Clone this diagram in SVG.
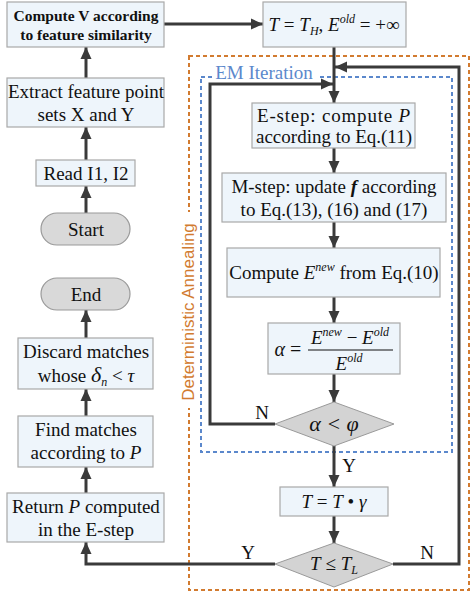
<svg xmlns="http://www.w3.org/2000/svg" width="474" height="594" viewBox="0 0 474 594">
<style>
.box{fill:#eef5fb;stroke:#a8a8a8;stroke-width:1.2}
.pill{fill:#d9d9d9;stroke:#9a9a9a;stroke-width:1.2}
.dia{fill:#d3d3d3;stroke:#9a9a9a;stroke-width:1}
.t{font-family:"Liberation Serif","Times New Roman",serif;font-size:19px;fill:#111;text-anchor:middle}
.b{font-weight:bold;font-size:15.5px}
.i{font-style:italic}
.sub{font-size:12px;font-style:italic}
.con{fill:none;stroke:#3a3a3a;stroke-width:3}
.lbl{font-family:"Liberation Serif","Times New Roman",serif;font-size:19px;fill:#111;text-anchor:middle}
</style>
<defs>
<marker id="ah" markerUnits="userSpaceOnUse" markerWidth="14" markerHeight="14" refX="12" refY="7" orient="auto">
<path d="M0,1.5 L12,7 L0,12.5 Z" fill="#3a3a3a"/>
</marker>
</defs>
<rect width="474" height="594" fill="#ffffff"/>

<g id="frames">
<rect x="189" y="56" width="280" height="534" fill="none" stroke="#d27b30" stroke-width="2" stroke-dasharray="4,3"/>
<rect x="201" y="77" width="251" height="375" fill="none" stroke="#5b88cc" stroke-width="2" stroke-dasharray="4,3"/>
<rect x="212" y="62" width="106" height="20" fill="#ffffff"/>
<text x="264" y="79" style="font-family:'Liberation Serif',serif;font-size:19px;fill:#5b88cc;text-anchor:middle">EM Iteration</text>
<rect x="180" y="212" width="18" height="196" fill="#ffffff"/>
<text transform="translate(194,312) rotate(-90)" style="font-family:'Liberation Sans',Arial,sans-serif;font-size:17px;fill:#d27b30;text-anchor:middle">Deterministic Annealing</text>
</g>

<g id="connectors">
<path class="con" d="M86,160 V127" marker-end="url(#ah)"/>
<path class="con" d="M86,78 V47" marker-end="url(#ah)"/>
<path class="con" d="M86,213 V186" marker-end="url(#ah)"/>
<path class="con" d="M86,338 V310" marker-end="url(#ah)"/>
<path class="con" d="M86,416 V389" marker-end="url(#ah)"/>
<path class="con" d="M86,493 V467" marker-end="url(#ah)"/>
<path class="con" d="M275,564 H86 V542" marker-end="url(#ah)"/>
<path class="con" d="M164,24 H263" marker-end="url(#ah)"/>
<path class="con" d="M334,47 V103" marker-end="url(#ah)"/>
<path class="con" d="M275,424 H210 V84 H333" marker-end="url(#ah)"/>
<path class="con" d="M393,564 H459 V67 H335" marker-end="url(#ah)"/>
<path class="con" d="M334,148 V173" marker-end="url(#ah)"/>
<path class="con" d="M334,222 V248" marker-end="url(#ah)"/>
<path class="con" d="M334,297 V323" marker-end="url(#ah)"/>
<path class="con" d="M334,374 V402" marker-end="url(#ah)"/>
<path class="con" d="M334,446 V487" marker-end="url(#ah)"/>
<path class="con" d="M334,516 V543" marker-end="url(#ah)"/>
<text class="lbl" x="262" y="419">N</text>
<text class="lbl" x="349" y="472">Y</text>
<text class="lbl" x="248" y="559">Y</text>
<text class="lbl" x="427" y="559">N</text>
</g>

<g id="computeV">
<rect class="box" x="7" y="2" width="157" height="45"/>
<text class="t b" x="86" y="21">Compute V according</text>
<text class="t b" x="86" y="40">to feature similarity</text>
</g>
<g id="extract">
<rect class="box" x="7" y="78" width="157" height="49"/>
<text class="t" x="86" y="98">Extract feature point</text>
<text class="t" x="86" y="121">sets X and Y</text>
</g>
<g id="read">
<rect class="box" x="36" y="160" width="99" height="26"/>
<text class="t" x="86" y="180">Read I1, I2</text>
</g>
<g id="start">
<rect class="pill" x="41" y="213" width="89" height="32" rx="16"/>
<text class="t" x="86" y="236">Start</text>
</g>
<g id="end">
<rect class="pill" x="41" y="278" width="89" height="32" rx="16"/>
<text class="t" x="86" y="301">End</text>
</g>
<g id="discard">
<rect class="box" x="18" y="338" width="135" height="51"/>
<text class="t" x="86" y="358">Discard matches</text>
<text class="t" x="86" y="382">whose <tspan class="i" font-size="22">δ</tspan><tspan class="sub" dy="4">n</tspan><tspan dy="-4"> &lt; </tspan><tspan class="i">τ</tspan></text>
</g>
<g id="find">
<rect class="box" x="18" y="416" width="135" height="51"/>
<text class="t" x="86" y="436">Find matches</text>
<text class="t" x="86" y="459">according to <tspan class="i">P</tspan></text>
</g>
<g id="return">
<rect class="box" x="7" y="493" width="157" height="49"/>
<text class="t" x="86" y="513">Return <tspan class="i">P</tspan> computed</text>
<text class="t" x="86" y="536">in the E-step</text>
</g>

<g id="init">
<rect class="box" x="263" y="2" width="143" height="45"/>
<text class="t" x="334" y="31"><tspan class="i">T</tspan> = <tspan class="i">T</tspan><tspan class="sub" dy="4">H</tspan><tspan dy="-4">, </tspan><tspan class="i">E</tspan><tspan class="sub" dy="-8">old</tspan><tspan dy="8"> = +∞</tspan></text>
</g>
<g id="estep">
<rect class="box" x="252" y="103" width="163" height="45"/>
<text class="t" x="334" y="122" style="letter-spacing:0.8px">E-step: compute <tspan class="i">P</tspan></text>
<text class="t" x="334" y="143">according to Eq.(11)</text>
</g>
<g id="mstep">
<rect class="box" x="222" y="173" width="224" height="49"/>
<text class="t" x="334" y="193">M-step: update <tspan class="i" font-weight="bold">f</tspan> according</text>
<text class="t" x="334" y="216">to Eq.(13), (16) and (17)</text>
</g>
<g id="computeE">
<rect class="box" x="227" y="248" width="213" height="49"/>
<text class="t" x="334" y="279">Compute <tspan class="i">E</tspan><tspan class="sub" dy="-8">new</tspan><tspan dy="8"> from Eq.(10)</tspan></text>
</g>
<g id="alpha">
<rect class="box" x="268" y="323" width="132" height="51"/>
<text class="t" x="288" y="356" style="font-size:20px"><tspan class="i">α</tspan> =</text>
<text class="t" x="350" y="344"><tspan class="i">E</tspan><tspan class="sub" dy="-8">new</tspan><tspan dy="8"> − </tspan><tspan class="i">E</tspan><tspan class="sub" dy="-8">old</tspan></text>
<line x1="308" y1="350" x2="393" y2="350" stroke="#111" stroke-width="1"/>
<text class="t" x="349" y="370"><tspan class="i">E</tspan><tspan class="sub" dy="-8">old</tspan></text>
</g>
<g id="cond1">
<polygon class="dia" points="334,402 394,424 334,446 275,424"/>
<text class="t i" x="334" y="431" style="font-size:22px">α &lt; φ</text>
</g>
<g id="cool">
<rect class="box" x="280" y="487" width="108" height="29"/>
<text class="t" x="334" y="508"><tspan class="i">T</tspan> = <tspan class="i">T</tspan> • <tspan class="i">γ</tspan></text>
</g>
<g id="cond2">
<polygon class="dia" points="334,543 393,564 334,587 275,564"/>
<text class="t" x="334" y="570" style="font-size:19px"><tspan class="i">T</tspan> ≤ <tspan class="i">T</tspan><tspan class="sub" dy="4">L</tspan></text>
</g>
</svg>
